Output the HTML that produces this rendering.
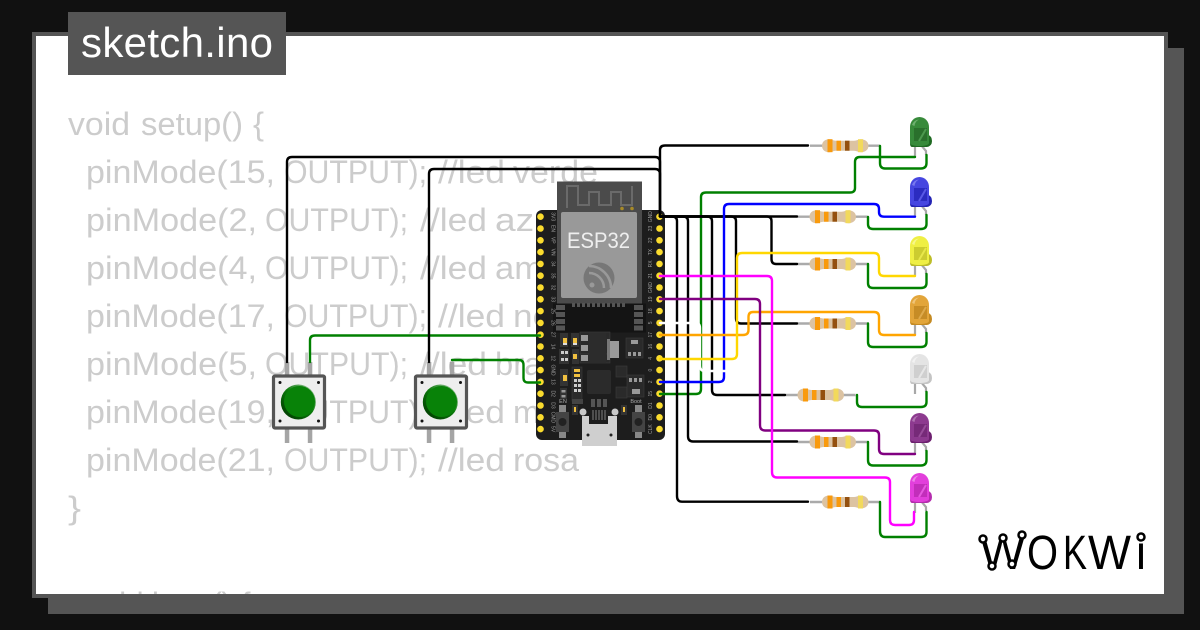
<!DOCTYPE html>
<html><head><meta charset="utf-8"><style>
html,body{margin:0;padding:0;background:#111;width:1200px;height:630px;overflow:hidden}
svg{display:block}
.c{font-family:"Liberation Sans",sans-serif;font-size:32px;fill:#ccc}
.w{fill:none;stroke-width:2.4;stroke-linecap:round}
.pl{font-family:"Liberation Sans",sans-serif;font-size:5px;fill:#999;text-anchor:middle}
.p{fill:#fbdc2e}
.lg{fill:none;stroke:#a8a8a8;stroke-width:2.2}
.sm{fill:#2a2a2a;stroke:#3c3c3c;stroke-width:.6}
.lo{font-family:"Liberation Sans",sans-serif;font-size:48px;fill:#000}
</style></head><body>
<svg width="1200" height="630" viewBox="0 0 1200 630" xmlns="http://www.w3.org/2000/svg">
<defs><clipPath id="card"><rect x="36" y="36" width="1128" height="558"/></clipPath>
<linearGradient id="bg" x1="0.85" y1="0.1" x2="0.15" y2="0.9"><stop offset="0" stop-color="#7fb87f"/><stop offset=".45" stop-color="#0a7a0a"/><stop offset="1" stop-color="#023f02"/></linearGradient>
<g id="res">
<path d="M-12,0H58" stroke="#aaa" stroke-width="2.4" fill="none"/>
<path d="M0,0C0,-4 3,-6.500 7,-6.500C10,-6.500 11,-5 14,-5H32C35,-5 36,-6.500 39,-6.500C43,-6.500 46.500,-4 46.500,0C46.500,4 43,6.500 39,6.500C36,6.500 35,5 32,5H14C11,5 10,6.500 7,6.500C3,6.500 0,4 0,0Z" fill="#dcc3a2"/>
<rect x="5.500" y="-6.500" width="5" height="13" fill="#f99a0c"/>
<rect x="14.500" y="-5" width="4.500" height="10" fill="#f99a0c"/>
<rect x="23" y="-5" width="4.500" height="10" fill="#94500f"/>
<rect x="36" y="-6.500" width="5" height="13" fill="#f2d95c"/>
</g>
<g id="btn">
<rect x="-2.200" y="-13" width="4.500" height="15" fill="#a5a5a5"/>
<rect x="20.800" y="-13" width="4.500" height="15" fill="#a5a5a5"/>
<rect x="-2.200" y="52" width="4.500" height="16" fill="#a5a5a5"/>
<rect x="20.800" y="52" width="4.500" height="16" fill="#a5a5a5"/>
<rect x="-13.500" y="1" width="51" height="52" rx="1.500" fill="#eee" stroke="#555" stroke-width="3.200"/>
<circle cx="-7" cy="7.500" r="1.500" fill="#111"/><circle cx="31.500" cy="7.500" r="1.500" fill="#111"/>
<circle cx="-7" cy="46" r="1.500" fill="#111"/><circle cx="31.500" cy="46" r="1.500" fill="#111"/>
<circle cx="11.300" cy="27" r="17.500" fill="url(#bg)"/>
<circle cx="12.500" cy="26.500" r="15.500" fill="#088208"/>
</g>
<g id="leg"><path d="M5,28V40M11,28L16,34V38" class="lg"/></g>
</defs>
<rect width="1200" height="630" fill="#111"/>
<rect x="48" y="48" width="1136" height="566" fill="#555"/>
<rect x="32" y="32" width="1136" height="566" fill="#555"/>
<rect x="36" y="36" width="1128" height="558" fill="#fff"/>
<g clip-path="url(#card)" class="c">
<text x="68" y="135" textLength="62" lengthAdjust="spacingAndGlyphs">void</text><text x="141" y="135" textLength="102" lengthAdjust="spacingAndGlyphs">setup()</text><text x="253" y="135" textLength="11" lengthAdjust="spacingAndGlyphs">{</text>

<text x="86" y="183" textLength="189" lengthAdjust="spacingAndGlyphs">pinMode(15,</text><text x="284" y="183" textLength="143" lengthAdjust="spacingAndGlyphs">OUTPUT);</text><text x="438" y="183" textLength="67" lengthAdjust="spacingAndGlyphs">//led</text><text x="513" y="183" textLength="85" lengthAdjust="spacingAndGlyphs">verde</text>

<text x="86" y="231" textLength="171" lengthAdjust="spacingAndGlyphs">pinMode(2,</text><text x="265" y="231" textLength="143" lengthAdjust="spacingAndGlyphs">OUTPUT);</text><text x="420" y="231" textLength="67" lengthAdjust="spacingAndGlyphs">//led</text><text x="495" y="231" textLength="68" lengthAdjust="spacingAndGlyphs">azul</text>

<text x="86" y="279" textLength="171" lengthAdjust="spacingAndGlyphs">pinMode(4,</text><text x="265" y="279" textLength="143" lengthAdjust="spacingAndGlyphs">OUTPUT);</text><text x="420" y="279" textLength="67" lengthAdjust="spacingAndGlyphs">//led</text><text x="495" y="279" textLength="125" lengthAdjust="spacingAndGlyphs">amarelo</text>

<text x="86" y="327" textLength="189" lengthAdjust="spacingAndGlyphs">pinMode(17,</text><text x="284" y="327" textLength="143" lengthAdjust="spacingAndGlyphs">OUTPUT);</text><text x="438" y="327" textLength="67" lengthAdjust="spacingAndGlyphs">//led</text><text x="513" y="327" textLength="90" lengthAdjust="spacingAndGlyphs">negro</text>

<text x="86" y="375" textLength="171" lengthAdjust="spacingAndGlyphs">pinMode(5,</text><text x="265" y="375" textLength="143" lengthAdjust="spacingAndGlyphs">OUTPUT);</text><text x="420" y="375" textLength="67" lengthAdjust="spacingAndGlyphs">//led</text><text x="495" y="375" textLength="100" lengthAdjust="spacingAndGlyphs">branco</text>

<text x="86" y="423" textLength="189" lengthAdjust="spacingAndGlyphs">pinMode(19,</text><text x="284" y="423" textLength="143" lengthAdjust="spacingAndGlyphs">OUTPUT);</text><text x="438" y="423" textLength="67" lengthAdjust="spacingAndGlyphs">//led</text><text x="513" y="423" textLength="110" lengthAdjust="spacingAndGlyphs">morado</text>

<text x="86" y="471" textLength="189" lengthAdjust="spacingAndGlyphs">pinMode(21,</text><text x="284" y="471" textLength="143" lengthAdjust="spacingAndGlyphs">OUTPUT);</text><text x="438" y="471" textLength="67" lengthAdjust="spacingAndGlyphs">//led</text><text x="513" y="471" textLength="66" lengthAdjust="spacingAndGlyphs">rosa</text>

<text x="68" y="519" textLength="13" lengthAdjust="spacingAndGlyphs">}</text>
<text x="86" y="615" textLength="165">void loop() {</text>
</g>
<rect x="68" y="12" width="218" height="63" fill="#555"/>
<text x="81" y="57" font-family="Liberation Sans,sans-serif" font-size="42" fill="#fff" textLength="192">sketch.ino</text>

<!-- ESP32 board -->
<rect x="536" y="210" width="129" height="230" rx="6" fill="#1d1d1d"/>
<rect x="557" y="181.500" width="85" height="122" fill="#4b4b4b"/>
<path d="M567,208V186H578V205H589V192H599V205H611V192H621V205H632V186" fill="none" stroke="#6a6a6a" stroke-width="2"/>
<circle cx="622" cy="208.500" r="1.800" fill="#a78a28"/><circle cx="632" cy="208.500" r="1.800" fill="#a78a28"/>
<rect x="561" y="212" width="76" height="86" rx="2" fill="#999"/>
<text x="567" y="248" font-family="Liberation Sans,sans-serif" font-size="22" fill="#eee" textLength="63" lengthAdjust="spacingAndGlyphs">ESP32</text>
<circle cx="599" cy="278" r="15.500" fill="#777"/>
<g fill="none" stroke="#999">
<path d="M589,266A22,22 0 0 1 611,288" stroke-width="2.500"/>
<path d="M589,273A15,15 0 0 1 604,288" stroke-width="2.500"/>
</g>
<circle cx="592" cy="285" r="2.500" fill="#999"/>
<rect x="553" y="303.500" width="93" height="29" fill="#141414"/>
<g fill="#555">
<rect x="556" y="305" width="9" height="5"/><rect x="556" y="312" width="9" height="5"/><rect x="556" y="319" width="9" height="5"/><rect x="556" y="325.500" width="9" height="5"/>
<rect x="634" y="305" width="9" height="5"/><rect x="634" y="312" width="9" height="5"/><rect x="634" y="319" width="9" height="5"/><rect x="634" y="325.500" width="9" height="5"/>
<rect x="572" y="303" width="3" height="4"/><rect x="577" y="303" width="3" height="4"/><rect x="582" y="303" width="3" height="4"/><rect x="587" y="303" width="3" height="4"/><rect x="592" y="303" width="3" height="4"/><rect x="597" y="303" width="3" height="4"/><rect x="602" y="303" width="3" height="4"/><rect x="607" y="303" width="3" height="4"/><rect x="612" y="303" width="3" height="4"/><rect x="617" y="303" width="3" height="4"/><rect x="622" y="303" width="3" height="4"/>
</g>
<!-- smd parts -->
<rect x="560" y="333" width="8" height="14" fill="#333"/><rect x="563" y="338" width="4" height="5" fill="#f0c040"/><rect x="563" y="343" width="4" height="2" fill="#ddd"/>
<rect x="571" y="333" width="8" height="14" fill="#333"/><rect x="573" y="338" width="4" height="5" fill="#f0c040"/><rect x="573" y="343" width="4" height="2" fill="#ddd"/>
<rect x="559" y="349" width="10" height="15" fill="#333"/><rect x="561" y="351" width="3" height="3" fill="#ccc"/><rect x="565" y="351" width="3" height="3" fill="#ccc"/><rect x="561" y="358" width="3" height="3" fill="#ccc"/><rect x="565" y="358" width="3" height="3" fill="#ccc"/>
<rect x="572" y="349" width="7" height="15" fill="#333"/><rect x="573" y="354" width="4" height="5" fill="#f0c040"/>
<rect x="580" y="332" width="30" height="22" class="sm"/><rect x="580" y="354" width="30" height="9" class="sm"/>
<rect x="581" y="335" width="7" height="6" fill="#999"/><rect x="581" y="345" width="7" height="6" fill="#999"/><rect x="581" y="355" width="7" height="6" fill="#999"/>
<rect x="589" y="333" width="17" height="30" fill="#2c2c2c"/>
<rect x="607" y="341" width="12" height="17" fill="#9a9a9a"/><rect x="607" y="339" width="3" height="21" fill="#777"/>
<rect x="626" y="338" width="17" height="20" class="sm"/><rect x="631" y="340" width="7" height="4" fill="#999"/><rect x="628" y="352" width="3" height="4" fill="#999"/><rect x="633" y="352" width="3" height="4" fill="#999"/><rect x="638" y="352" width="3" height="4" fill="#999"/>
<rect x="560" y="369" width="8" height="17" fill="#333"/><rect x="563" y="375" width="4" height="6" fill="#f0c040"/>
<rect x="560" y="388" width="7" height="11" fill="#333"/><rect x="561.500" y="390" width="4" height="2.500" fill="#999"/><rect x="561.500" y="395" width="4" height="2.500" fill="#999"/>
<rect x="572" y="367" width="10" height="34" class="sm"/><rect x="574" y="369" width="6" height="3" fill="#f0c040"/><rect x="574" y="374" width="6" height="3" fill="#f0c040"/><rect x="574" y="379" width="3" height="3" fill="#ccc"/><rect x="578" y="379" width="3" height="3" fill="#ccc"/><rect x="574" y="384" width="3" height="3" fill="#ccc"/><rect x="578" y="384" width="3" height="3" fill="#ccc"/><rect x="574" y="389" width="3" height="3" fill="#ccc"/><rect x="578" y="389" width="3" height="3" fill="#ccc"/>
<rect x="587" y="370" width="24" height="24" rx="2" fill="#2b2b2b"/>
<rect x="616" y="366" width="11" height="11" class="sm"/><rect x="616" y="387" width="11" height="11" class="sm"/>
<rect x="627" y="375" width="17" height="22" class="sm"/><rect x="629" y="378" width="3" height="4" fill="#999"/><rect x="634" y="378" width="3" height="4" fill="#999"/><rect x="639" y="378" width="3" height="4" fill="#999"/><rect x="632" y="389" width="8" height="5" fill="#999"/>
<text x="563" y="403" class="pl" style="font-size:5.500px;fill:#aaa">EN</text>
<text x="636" y="403" class="pl" style="font-size:5.500px;fill:#aaa">Boot</text>
<rect x="572" y="399" width="11" height="5" fill="#444"/>
<rect x="591" y="399" width="4" height="8" fill="#555"/><rect x="597" y="399" width="4" height="8" fill="#555"/><rect x="603" y="399" width="4" height="8" fill="#555"/>
<rect x="572" y="405" width="6" height="10" fill="#333"/><rect x="574" y="407" width="2" height="5" fill="#f0c040"/>
<rect x="621" y="405" width="6" height="10" fill="#333"/><rect x="623" y="407" width="2" height="5" fill="#f0c040"/>
<rect x="556" y="412" width="13" height="20" fill="#444"/><circle cx="562.500" cy="422" r="4" fill="#222"/><rect x="559" y="405" width="7" height="7" fill="#888"/><rect x="559" y="432" width="7" height="6" fill="#888"/>
<rect x="632" y="412" width="13" height="20" fill="#444"/><circle cx="638.500" cy="422" r="4" fill="#222"/><rect x="635" y="405" width="7" height="7" fill="#888"/><rect x="635" y="432" width="7" height="6" fill="#888"/>
<g stroke="#999" stroke-width=".8"><path d="M593,410V420M596,410V420M599,410V420M602,410V420M605,410V420"/></g>
<circle cx="583" cy="412" r="3.500" fill="#c8c8c8"/><circle cx="615" cy="412" r="3.500" fill="#c8c8c8"/>
<path d="M582,416H589V424H608V416H617V446H582Z" fill="#cfcfcf"/>
<circle cx="588" cy="435" r="1.500" fill="#222"/><circle cx="611" cy="435" r="1.500" fill="#222"/>
<!-- pin labels -->
<g class="pl">
<text transform="translate(551.500 216.700) rotate(90)" class="pl">3V3</text>
<text transform="translate(551.500 228.500) rotate(90)" class="pl">EN</text>
<text transform="translate(551.500 240.300) rotate(90)" class="pl">VP</text>
<text transform="translate(551.500 252.100) rotate(90)" class="pl">VN</text>
<text transform="translate(551.500 263.900) rotate(90)" class="pl">34</text>
<text transform="translate(551.500 275.700) rotate(90)" class="pl">35</text>
<text transform="translate(551.500 287.500) rotate(90)" class="pl">32</text>
<text transform="translate(551.500 299.300) rotate(90)" class="pl">33</text>
<text transform="translate(551.500 311.100) rotate(90)" class="pl">25</text>
<text transform="translate(551.500 322.900) rotate(90)" class="pl">26</text>
<text transform="translate(551.500 334.700) rotate(90)" class="pl">27</text>
<text transform="translate(551.500 346.500) rotate(90)" class="pl">14</text>
<text transform="translate(551.500 358.300) rotate(90)" class="pl">12</text>
<text transform="translate(551.500 370.100) rotate(90)" class="pl">GND</text>
<text transform="translate(551.500 381.900) rotate(90)" class="pl">13</text>
<text transform="translate(551.500 393.700) rotate(90)" class="pl">D2</text>
<text transform="translate(551.500 405.500) rotate(90)" class="pl">D3</text>
<text transform="translate(551.500 417.300) rotate(90)" class="pl">CMD</text>
<text transform="translate(551.500 429.100) rotate(90)" class="pl">5V</text>
<text transform="translate(652 216.700) rotate(-90)" class="pl">GND</text>
<text transform="translate(652 228.500) rotate(-90)" class="pl">23</text>
<text transform="translate(652 240.300) rotate(-90)" class="pl">22</text>
<text transform="translate(652 252.100) rotate(-90)" class="pl">TX</text>
<text transform="translate(652 263.900) rotate(-90)" class="pl">RX</text>
<text transform="translate(652 275.700) rotate(-90)" class="pl">21</text>
<text transform="translate(652 287.500) rotate(-90)" class="pl">GND</text>
<text transform="translate(652 299.300) rotate(-90)" class="pl">19</text>
<text transform="translate(652 311.100) rotate(-90)" class="pl">18</text>
<text transform="translate(652 322.900) rotate(-90)" class="pl">5</text>
<text transform="translate(652 334.700) rotate(-90)" class="pl">17</text>
<text transform="translate(652 346.500) rotate(-90)" class="pl">16</text>
<text transform="translate(652 358.300) rotate(-90)" class="pl">4</text>
<text transform="translate(652 370.100) rotate(-90)" class="pl">0</text>
<text transform="translate(652 381.900) rotate(-90)" class="pl">2</text>
<text transform="translate(652 393.700) rotate(-90)" class="pl">15</text>
<text transform="translate(652 405.500) rotate(-90)" class="pl">D1</text>
<text transform="translate(652 417.300) rotate(-90)" class="pl">D0</text>
<text transform="translate(652 429.100) rotate(-90)" class="pl">CLK</text>
</g>
<g class="p">
<circle cx="540.500" cy="216.700" r="3.300"/><circle cx="540.500" cy="228.500" r="3.300"/><circle cx="540.500" cy="240.300" r="3.300"/><circle cx="540.500" cy="252.100" r="3.300"/><circle cx="540.500" cy="263.900" r="3.300"/><circle cx="540.500" cy="275.700" r="3.300"/><circle cx="540.500" cy="287.500" r="3.300"/><circle cx="540.500" cy="299.300" r="3.300"/><circle cx="540.500" cy="311.100" r="3.300"/><circle cx="540.500" cy="322.900" r="3.300"/><circle cx="540.500" cy="334.700" r="3.300"/><circle cx="540.500" cy="346.500" r="3.300"/><circle cx="540.500" cy="358.300" r="3.300"/><circle cx="540.500" cy="370.100" r="3.300"/><circle cx="540.500" cy="381.900" r="3.300"/><circle cx="540.500" cy="393.700" r="3.300"/><circle cx="540.500" cy="405.500" r="3.300"/><circle cx="540.500" cy="417.300" r="3.300"/><circle cx="540.500" cy="429.100" r="3.300"/>
<circle cx="659.500" cy="216.700" r="3.300"/><circle cx="659.500" cy="228.500" r="3.300"/><circle cx="659.500" cy="240.300" r="3.300"/><circle cx="659.500" cy="252.100" r="3.300"/><circle cx="659.500" cy="263.900" r="3.300"/><circle cx="659.500" cy="275.700" r="3.300"/><circle cx="659.500" cy="287.500" r="3.300"/><circle cx="659.500" cy="299.300" r="3.300"/><circle cx="659.500" cy="311.100" r="3.300"/><circle cx="659.500" cy="322.900" r="3.300"/><circle cx="659.500" cy="334.700" r="3.300"/><circle cx="659.500" cy="346.500" r="3.300"/><circle cx="659.500" cy="358.300" r="3.300"/><circle cx="659.500" cy="370.100" r="3.300"/><circle cx="659.500" cy="381.900" r="3.300"/><circle cx="659.500" cy="393.700" r="3.300"/><circle cx="659.500" cy="405.500" r="3.300"/><circle cx="659.500" cy="417.300" r="3.300"/><circle cx="659.500" cy="429.100" r="3.300"/>
</g>

<!-- buttons -->
<use href="#btn" x="287" y="375"/>
<use href="#btn" x="429" y="375"/>

<!-- resistors -->
<use href="#res" x="822" y="145.700"/>
<use href="#res" x="809.500" y="216.700"/>
<use href="#res" x="809.500" y="264"/>
<use href="#res" x="809.500" y="323.500"/>
<use href="#res" x="797.500" y="395"/>
<use href="#res" x="809.500" y="442"/>
<use href="#res" x="822" y="502"/>

<!-- LEDs -->
<g>
<g transform="translate(910 117)"><use href="#leg"/><path d="M17,17Q22,19 22,24Q22,29 17,30H2Q0,30 0,26V17Z" fill="#1f6a22"/><path d="M0,26V10A9.500,10 0 0 1 19,10V26C19,30 0,30 0,26Z" fill="#378a3a"/><path d="M2,8A8,8 0 0 1 9,2.500C6,4 5,6 4.500,9Z" fill="#6fb070"/><rect x="4" y="11" width="13" height="13" fill="#2a702c"/><path d="M9,24L16,12" stroke="#4d9a4f" stroke-width="2"/></g>
<g transform="translate(910 177)"><use href="#leg"/><path d="M17,17Q22,19 22,24Q22,29 17,30H2Q0,30 0,26V17Z" fill="#2424b4"/><path d="M0,26V10A9.500,10 0 0 1 19,10V26C19,30 0,30 0,26Z" fill="#4646e0"/><path d="M2,8A8,8 0 0 1 9,2.500C6,4 5,6 4.500,9Z" fill="#7a7aee"/><rect x="4" y="11" width="13" height="13" fill="#2c2cc0"/><path d="M9,24L16,12" stroke="#5a5ae6" stroke-width="2"/></g>
<g transform="translate(910 236)"><use href="#leg"/><path d="M17,17Q22,19 22,24Q22,29 17,30H2Q0,30 0,26V17Z" fill="#bdbd28"/><path d="M0,26V10A9.500,10 0 0 1 19,10V26C19,30 0,30 0,26Z" fill="#efef44"/><path d="M2,8A8,8 0 0 1 9,2.500C6,4 5,6 4.500,9Z" fill="#f7f78a"/><rect x="4" y="11" width="13" height="13" fill="#cccc30"/><path d="M9,24L16,12" stroke="#e8e84a" stroke-width="2"/></g>
<g transform="translate(910 295)"><use href="#leg"/><path d="M17,17Q22,19 22,24Q22,29 17,30H2Q0,30 0,26V17Z" fill="#c48a22"/><path d="M0,26V10A9.500,10 0 0 1 19,10V26C19,30 0,30 0,26Z" fill="#e2a53a"/><path d="M2,8A8,8 0 0 1 9,2.500C6,4 5,6 4.500,9Z" fill="#efc479"/><rect x="4" y="11" width="13" height="13" fill="#c68c26"/><path d="M9,24L16,12" stroke="#deaa4c" stroke-width="2"/></g>
<g transform="translate(910 354)"><use href="#leg"/><path d="M17,17Q22,19 22,24Q22,29 17,30H2Q0,30 0,26V17Z" fill="#c4c4c4"/><path d="M0,26V10A9.500,10 0 0 1 19,10V26C19,30 0,30 0,26Z" fill="#e4e4e4"/><path d="M2,8A8,8 0 0 1 9,2.500C6,4 5,6 4.500,9Z" fill="#f2f2f2"/><rect x="4" y="11" width="13" height="13" fill="#cfcfcf"/><path d="M9,24L16,12" stroke="#e6e6e6" stroke-width="2"/></g>
<g transform="translate(910 413)"><use href="#leg"/><path d="M17,17Q22,19 22,24Q22,29 17,30H2Q0,30 0,26V17Z" fill="#6d1f6f"/><path d="M0,26V10A9.500,10 0 0 1 19,10V26C19,30 0,30 0,26Z" fill="#8d3a8f"/><path d="M2,8A8,8 0 0 1 9,2.500C6,4 5,6 4.500,9Z" fill="#b175b2"/><rect x="4" y="11" width="13" height="13" fill="#762a78"/><path d="M9,24L16,12" stroke="#974c99" stroke-width="2"/></g>
<g transform="translate(910 473)"><use href="#leg"/><path d="M17,17Q22,19 22,24Q22,29 17,30H2Q0,30 0,26V17Z" fill="#b52cae"/><path d="M0,26V10A9.500,10 0 0 1 19,10V26C19,30 0,30 0,26Z" fill="#e23fdb"/><path d="M2,8A8,8 0 0 1 9,2.500C6,4 5,6 4.500,9Z" fill="#ee85e9"/><rect x="4" y="11" width="13" height="13" fill="#c22eba"/><path d="M9,24L16,12" stroke="#e658e0" stroke-width="2"/></g>
</g>

<!-- wires -->
<g class="w" stroke="#008000">
<path d="M310,362V340Q310,335.500 315,335.500H540"/>
<path d="M452,360H519Q523.500,360 523.500,365V378Q523.500,382.500 528,382.500H540"/>
<path d="M660,394H696Q701,394 701,389V197Q701,192.500 706,192.500H850Q855,192.500 855,188V162Q855,157 860,157H915"/>
<path d="M880,146V163Q880,168.500 885,168.500H921Q926.500,168.500 926.500,163V155"/>
<path d="M868,217V224Q868,229 873,229H921Q926.500,229 926.500,224V215"/>
<path d="M868,264V283Q868,288 873,288H921Q926.500,288 926.500,283V274"/>
<path d="M868,323.500V342Q868,347 873,347H921Q926.500,347 926.500,342V333"/>
<path d="M857,395V402Q857,407 862,407H921Q926.500,407 926.500,402V392"/>
<path d="M868,442V460Q868,465.500 873,465.500H921Q926.500,465.500 926.500,460V451"/>
<path d="M880,502V531Q880,537 885,537H921Q926.500,537 926.500,532V512"/>
</g>
<g class="w" stroke="#000">
<path d="M287,362V162Q287,157 292,157H655Q660,157 660,162V216.500"/>
<path d="M429,362V174Q429,169 434,169H655Q660,169 660,174V216.500"/>
<path d="M660,216.500V150Q660,145.500 665,145.500H808"/>
<path d="M660,216.500H797"/>
<path d="M660,216.500H767Q771.500,216.500 771.500,221V259Q771.500,264 776,264H797"/>
<path d="M660,216.500H731Q736,216.500 736,221V318Q736,323.500 741,323.500H797"/>
<path d="M660,216.500H707Q712,216.500 712,221V390Q712,395 717,395H785"/>
<path d="M660,216.500H683Q688,216.500 688,221V436Q688,441.500 693,441.500H797"/>
<path d="M660,216.500H672Q677,216.500 677,221V496Q677,501.700 682,501.700H808"/>
</g>
<path class="w" stroke="#0000ff" d="M660,382H719Q724,382 724,377V209Q724,204 729,204H874Q879,204 879,209V212Q879,216.700 884,216.700H915"/>
<path class="w" stroke="#fff" d="M660,323H695Q700,323 700,328V366Q700,371 705,371H750"/>
<path class="w" stroke="#ffa500" d="M660,335H743Q748.500,335 748.500,330V317Q748.500,312 753,312H874Q879,312 879,317V330Q879,335 884,335H915"/>
<path class="w" stroke="#ffd700" d="M660,359H732Q737,359 737,354V258Q737,253 742,253H874Q879,253 879,258V271Q879,276 884,276H915"/>
<path class="w" stroke="#800080" d="M660,299H755Q760,299 760,304V425Q760,430.500 765,430.500H874Q879,430.500 879,435V449Q879,454 884,454H915"/>
<path class="w" stroke="#ff00ff" d="M660,276H767Q772,276 772,281V472Q772,477.500 777,477.500H885Q890,477.500 890,482V520Q890,525 895,525H909Q914,525 914,520V512"/>

<!-- logo -->
<text class="lo" x="980" y="569" textLength="45" lengthAdjust="spacingAndGlyphs">W</text>
<text class="lo" x="1027" y="569" textLength="31" lengthAdjust="spacingAndGlyphs">O</text>
<text class="lo" x="1063" y="569" textLength="24" lengthAdjust="spacingAndGlyphs">K</text>
<text class="lo" x="1088" y="569" textLength="43" lengthAdjust="spacingAndGlyphs">W</text>
<text class="lo" x="1136" y="569" textLength="10" lengthAdjust="spacingAndGlyphs">i</text>
<g fill="#fff" stroke="#000" stroke-width="2.500">
<circle cx="983" cy="539" r="3.500"/><circle cx="1003" cy="538" r="3.500"/><circle cx="1022" cy="535" r="3.500"/><circle cx="992" cy="566" r="3.500"/><circle cx="1012" cy="564" r="3.500"/><circle cx="1141" cy="537" r="3.500"/>
</g>
</svg>
</body></html>
